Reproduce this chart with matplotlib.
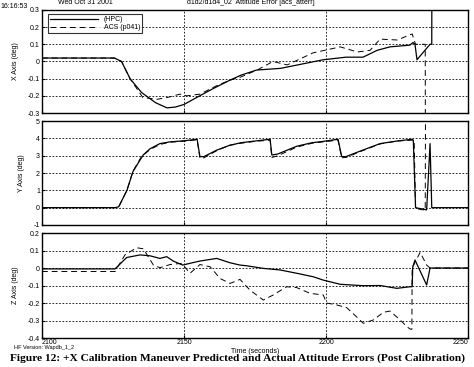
import matplotlib
matplotlib.use("Agg")
import matplotlib.pyplot as plt
import numpy as np

plt.rcParams['font.family'] = ['Liberation Sans', 'DejaVu Sans']

# X axis attitude error (deg)
x_hpc_t = [2100, 2125.5, 2128, 2131, 2135, 2140, 2144, 2147, 2150, 2155.5, 2160, 2166,
           2170, 2175.5, 2184, 2190, 2199, 2207, 2213, 2218, 2222.5, 2229.5, 2230.6,
           2231.3, 2232, 2236.6, 2237.2, 2237.3, 2250]
x_hpc_v = [0.02, 0.02, 0.0, -0.1, -0.18, -0.24, -0.27, -0.265, -0.25, -0.2, -0.16, -0.11,
           -0.08, -0.05, -0.04, -0.02, 0.01, 0.025, 0.025, 0.065, 0.085, 0.095, 0.11,
           0.10, 0.01, 0.10, 0.10, 1.0, 1.0]
x_acs_t = [2100, 2125.5, 2128, 2131, 2135.5, 2140.5, 2144, 2148.6, 2151, 2155.6, 2161.6,
           2166, 2170, 2175.7, 2181.3, 2186.3, 2195.4, 2205, 2211, 2215.5, 2219, 2225,
           2230.3, 2231.5, 2234.9, 2235, 2250]
x_acs_v = [0.02, 0.02, 0.0, -0.1, -0.21, -0.22, -0.21, -0.19, -0.2, -0.19, -0.14,
           -0.11, -0.09, -0.05, 0.0, -0.02, 0.05, 0.085, 0.055, 0.065, 0.13, 0.125,
           0.16, 0.1, 0.1, -1.0, -1.0]

# Y axis attitude error (deg)
y_hpc_t = [2100, 2125.7, 2127, 2129.9, 2132, 2135.6, 2138, 2141.5, 2145, 2149.8, 2154.6,
           2155.6, 2157, 2161.6, 2166, 2170, 2175, 2180.3, 2180.9, 2183, 2189.7, 2195,
           2199, 2204.2, 2205.5, 2207, 2213, 2219, 2225, 2230.2, 2230.7, 2231.5, 2235.4,
           2236.6, 2237.2, 2250]
y_hpc_v = [0, 0, 0.05, 1.0, 2.08, 3.04, 3.4, 3.7, 3.8, 3.86, 3.95,
           2.95, 2.95, 3.33, 3.6, 3.75, 3.85, 3.95, 3.04, 3.1, 3.55, 3.75,
           3.83, 3.95, 2.95, 2.95, 3.33, 3.7, 3.85, 3.95, 3.9, 0.0, -0.13,
           3.7, 0.0, 0.0]
y_acs_t = [2100, 2125.7, 2127, 2129.9, 2132, 2135, 2138, 2141.5, 2145, 2149.8, 2154.6,
           2155.6, 2157, 2161.6, 2166, 2170, 2175, 2180.3, 2180.9, 2183, 2189.7, 2195,
           2199, 2204.2, 2205.5, 2207, 2213, 2219, 2225, 2230.2, 2231, 2231.5, 2234.9,
           2235, 2250]
y_acs_v = [0, 0, 0.05, 1.0, 2.1, 2.95, 3.35, 3.65, 3.78, 3.84, 3.92,
           2.85, 2.88, 3.3, 3.6, 3.72, 3.83, 3.9, 2.9, 3.0, 3.5, 3.72,
           3.8, 3.9, 2.88, 2.9, 3.3, 3.68, 3.85, 3.9, 3.9, -0.05, -0.15,
           6.0, 6.0]

# Z axis attitude error (deg)
z_hpc_t = [2100, 2125.7, 2129.8, 2134.5, 2138, 2141.5, 2143.9, 2146.2, 2149.5, 2152.1,
           2155.6, 2161.5, 2166.2, 2169.7, 2172, 2177.9, 2183.8, 2189.7, 2195.5, 2199,
           2205, 2213.1, 2219, 2224.9, 2229.6, 2230.3, 2230.5, 2231.3, 2235.4, 2236.6, 2250]
z_hpc_v = [-0.005, -0.005, 0.06, 0.075, 0.07, 0.055, 0.065, 0.04, 0.017, 0.027,
           0.04, 0.055, 0.03, 0.017, 0.013, -0.002, -0.011, -0.03, -0.05, -0.069,
           -0.093, -0.101, -0.1, -0.116, -0.107, -0.107, 0.005, 0.046, -0.097, 0.0, 0.0]
z_acs_t = [2100, 2125.7, 2129.2, 2133.3, 2135.7, 2139.2, 2141.5, 2145.1, 2149.2, 2152.1,
           2155.6, 2159.2, 2162.7, 2166.2, 2169.7, 2173.2, 2177.9, 2181.4, 2186.1, 2189.7,
           2194.4, 2199, 2200.2, 2203.8, 2207.3, 2210.8, 2213.1, 2216.6, 2220.2, 2222.5,
           2226.1, 2228.4, 2229.6, 2230.2, 2230.3, 2233.1, 2235.4, 2236.6, 2250]
z_acs_v = [-0.02, -0.02, 0.075, 0.116, 0.11, 0.017, 0.002, 0.02, 0.027, -0.03,
           0.02, 0.007, -0.06, -0.088, -0.065, -0.126, -0.183, -0.154, -0.107, -0.112,
           -0.145, -0.154, -0.2, -0.211, -0.227, -0.28, -0.316, -0.297, -0.253, -0.246,
           -0.297, -0.335, -0.349, -0.35, 0.0, 0.09, 0.017, 0.0, 0.0]

x_ticks = [2100, 2150, 2200, 2250]
x_tick_labels = ["2100", "2150", "2200", "2250"]
panels = [
    ("X Axis (deg)", x_hpc_t, x_hpc_v, x_acs_t, x_acs_v, (-0.3, 0.3), np.arange(-0.3, 0.31, 0.1),
     ["-0.3", "-0.2", "-0.1", "0", "0.1", "0.2", "0.3"]),
    ("Y Axis (deg)", y_hpc_t, y_hpc_v, y_acs_t, y_acs_v, (-1, 5), np.arange(-1, 6, 1),
     ["-1", "0", "1", "2", "3", "4", "5"]),
    ("Z Axis (deg)", z_hpc_t, z_hpc_v, z_acs_t, z_acs_v, (-0.4, 0.2), np.arange(-0.4, 0.21, 0.1),
     ["-0.4", "-0.3", "-0.2", "-0.1", "0", "0.1", "0.2"]),
]
positions = [[0.0886, 0.692, 0.899, 0.281],
             [0.0886, 0.387, 0.899, 0.283],
             [0.0886, 0.079, 0.899, 0.286]]

fig = plt.figure(figsize=(4.74, 3.67), dpi=100)
grid_style = dict(color='black', linestyle=(0, (2, 2)), linewidth=0.6)

for i, (lab, ht, hv, at, av, ylim, yt, ytl) in enumerate(panels):
    ax = fig.add_axes(positions[i])
    ax.plot(ht, hv, color='black', linewidth=0.9, label='(HPC)')
    ax.plot(at, av, color='black', linewidth=0.7, linestyle=(0, (6, 4)), label='ACS (p041)')
    ax.set_xlim(2100, 2250)
    ax.set_ylim(*ylim)
    ax.set_xticks(x_ticks)
    ax.set_yticks(yt)
    ax.set_yticklabels(ytl)
    ax.grid(True, **grid_style)
    ax.tick_params(direction='in', length=2, labelsize=5, pad=1.5)
    ax.set_ylabel(lab, fontsize=5, labelpad=6)
    for s in ax.spines.values():
        s.set_linewidth(1.0)
    if i < 2:
        ax.set_xticklabels([])
    else:
        ax.set_xticklabels(x_tick_labels)
        ax.tick_params(axis='x', pad=1)
        ax.get_xticklabels()[0].set_horizontalalignment('left')
        ax.get_xticklabels()[-1].set_horizontalalignment('right')
        ax.set_xlabel("Time (seconds)", fontsize=5, labelpad=1)
    if i == 0:
        leg = ax.legend(loc='upper left', fontsize=5, handlelength=7, frameon=True,
                        fancybox=False, borderpad=0.3, labelspacing=0.2,
                        bbox_to_anchor=(0.005, 0.995))
        leg.get_frame().set_edgecolor('black')
        leg.get_frame().set_linewidth(0.8)

fig.text(0.002, 0.982, "16:16:53", fontsize=5, ha='left', va='center')
fig.text(0.18, 0.992, "Wed Oct 31 2001", fontsize=5, ha='center', va='center')
fig.text(0.53, 0.992, "d1d2/d1d4_02  Attitude Error [acs_atterr]", fontsize=5,
         ha='center', va='center')
fig.text(0.03, 0.052, "HF Version: Wapdb_1_2", fontsize=4, ha='left', va='center')
fig.text(0.5, 0.036,
         "Figure 12: +X Calibration Maneuver Predicted and Actual Attitude Errors (Post Calibration)",
         fontsize=8.2, fontweight='bold', family=['Liberation Serif', 'DejaVu Serif'],
         ha='center', va='top')

fig.savefig("out.png", dpi=100)
